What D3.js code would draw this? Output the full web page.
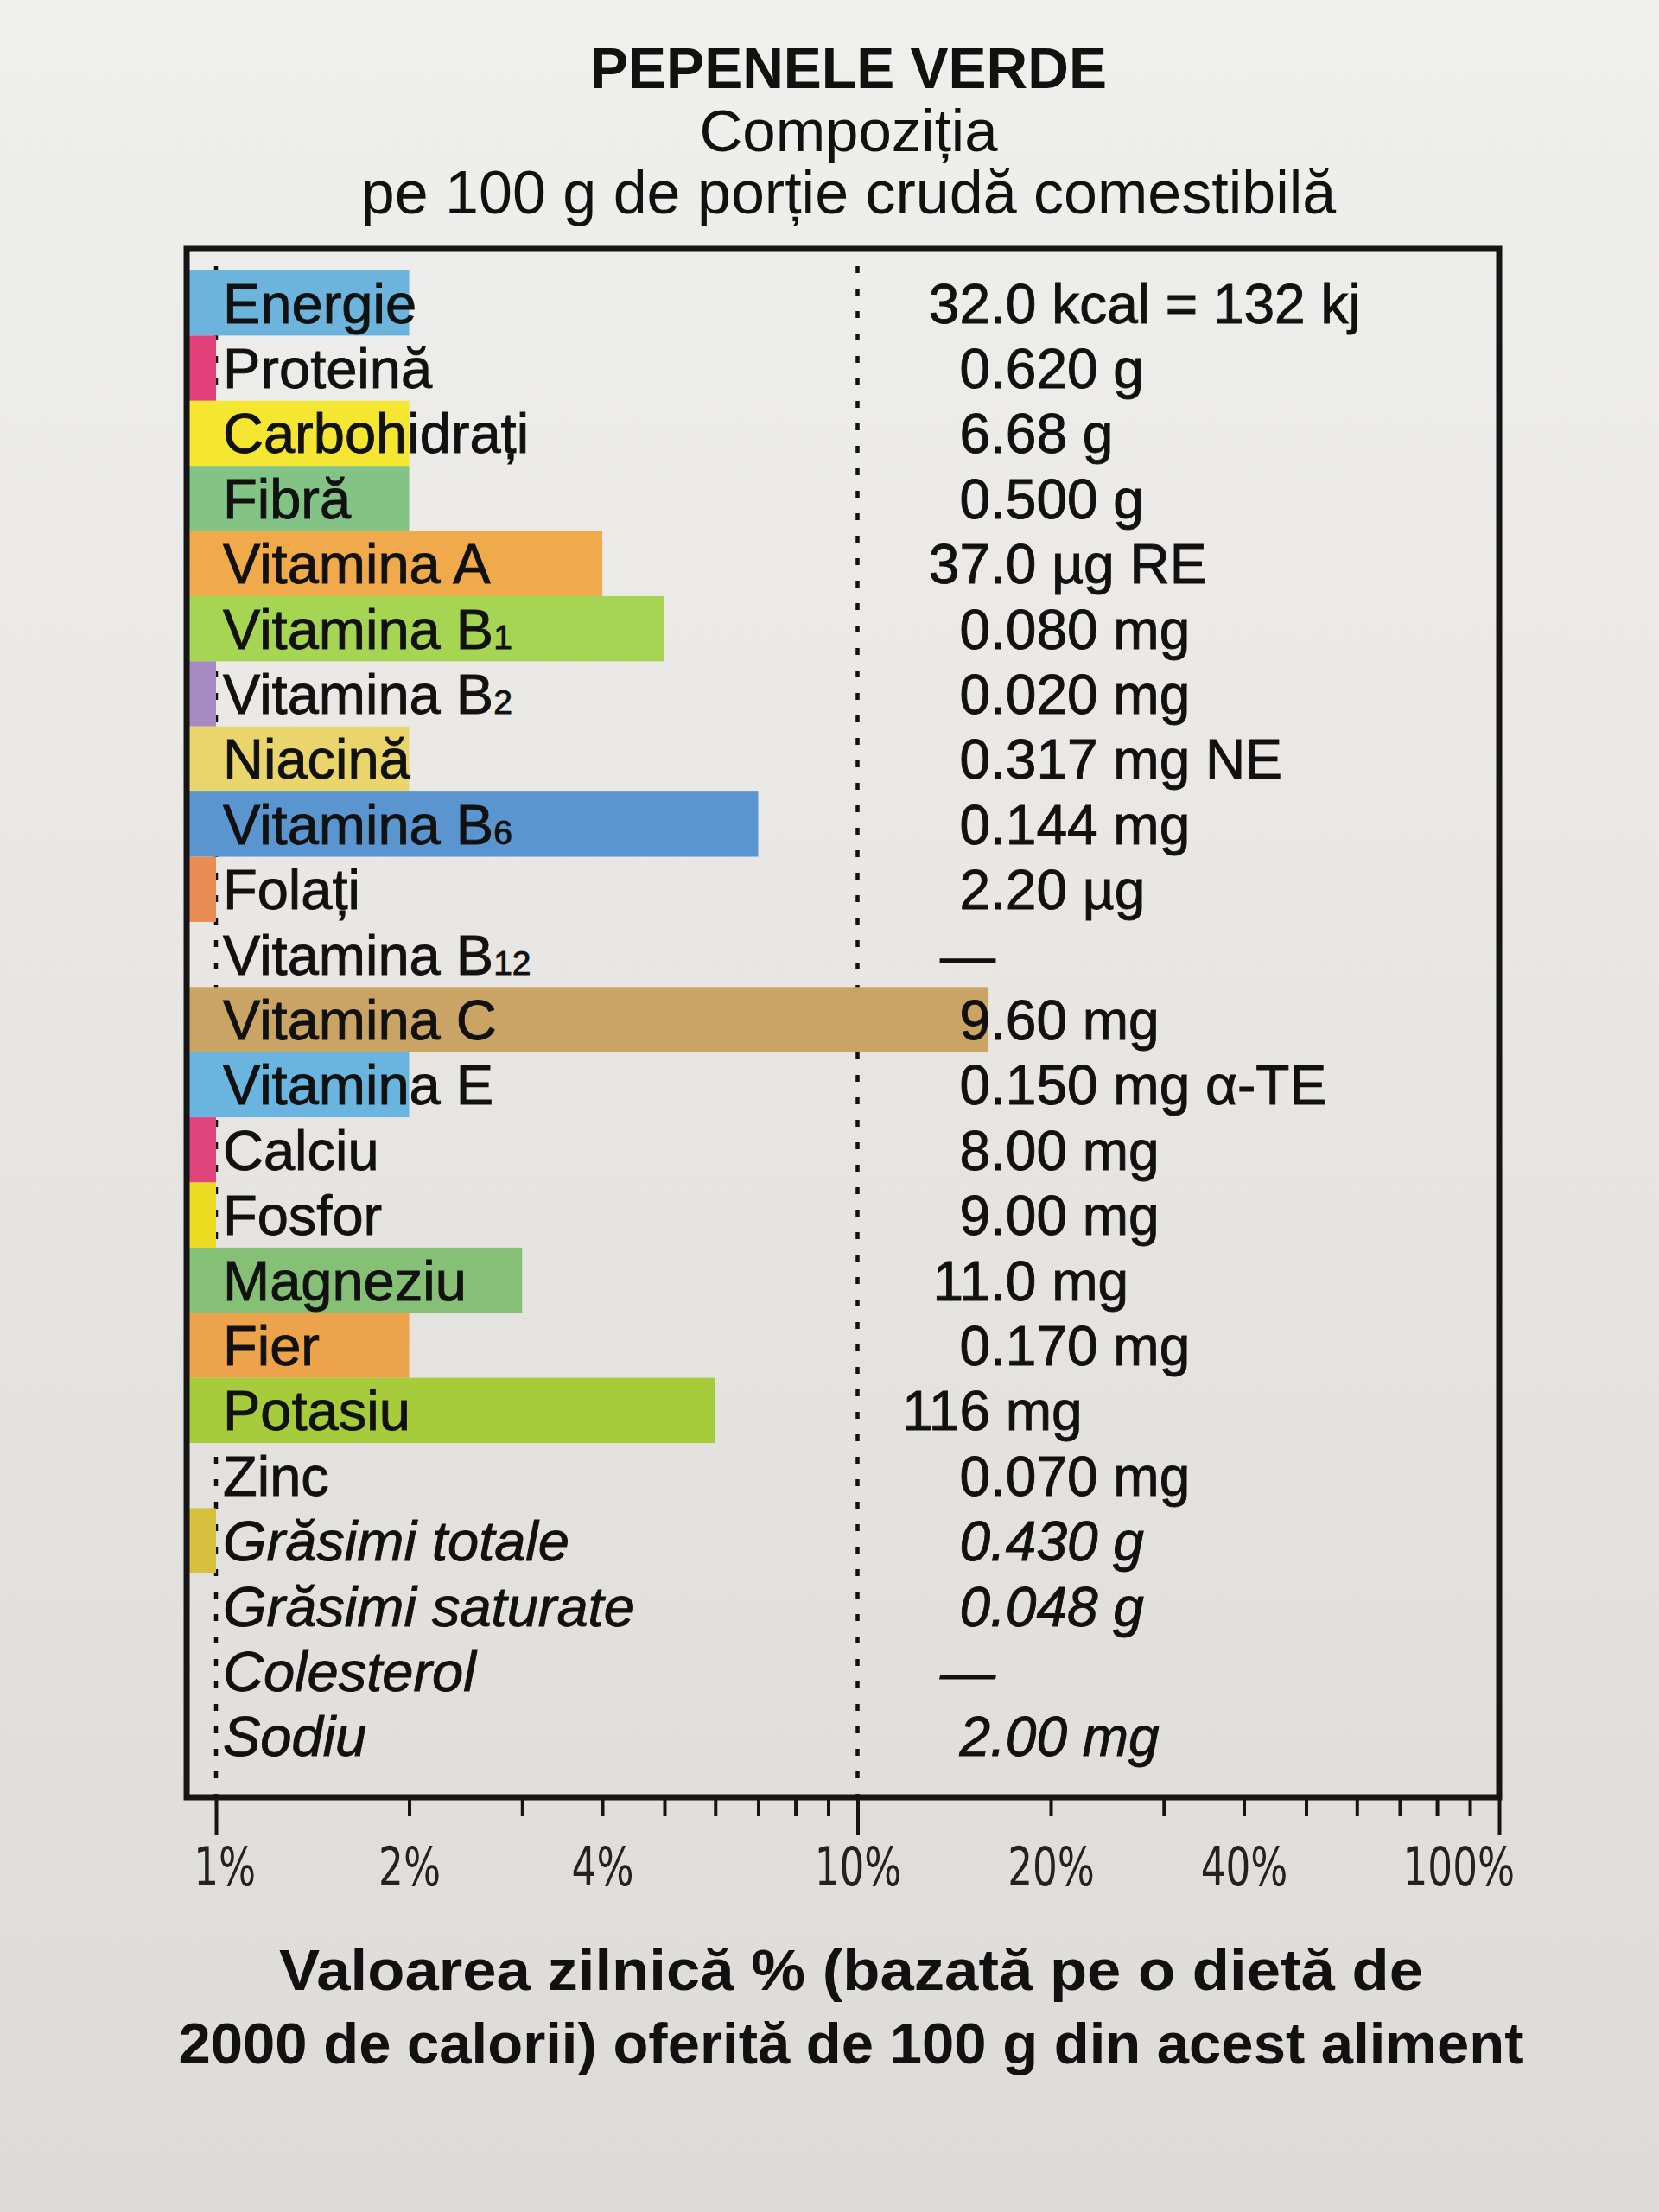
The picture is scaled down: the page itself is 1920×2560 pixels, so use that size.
<!DOCTYPE html>
<html lang="ro">
<head>
<meta charset="UTF-8">
<title>Pepenele verde - compoziția</title>
<script src="https://d3js.org/d3.v7.min.js"></script>
<style>
  body { margin: 0; background: #e8e7e4; }
  svg text { font-family: "Liberation Sans", Arial, Helvetica, sans-serif; fill: #111; white-space: pre; }
  .row-text { stroke: #111; stroke-width: 0.9; }
  .tick-label { font-family: "Liberation Sans Narrow", "DejaVu Sans Condensed", sans-serif; fill: #222; }
</style>
</head>
<body>
<svg width="1920" height="2560"></svg>
<script>
// rows of the chart (top to bottom)
const categories = [
  "Energie", "Proteină", "Carbohidrați", "Fibră", "Vitamina A", "Vitamina B1",
  "Vitamina B2", "Niacină", "Vitamina B6", "Folați", "Vitamina B12", "Vitamina C",
  "Vitamina E", "Calciu", "Fosfor", "Magneziu", "Fier", "Potasiu", "Zinc",
  "Grăsimi totale", "Grăsimi saturate", "Colesterol", "Sodiu"
];
// % of daily value (0 = no bar)
const dvPercent = [2, 1, 2, 2, 4, 5, 1, 2, 7, 1, 0, 16, 2, 1, 1, 3, 2, 6, 0, 1, 0, 0, 0];
// amounts per 100 g, right column
const amounts = [
  "32.0 kcal = 132 kj", "0.620 g", "6.68 g", "0.500 g", "37.0 µg RE", "0.080 mg",
  "0.020 mg", "0.317 mg NE", "0.144 mg", "2.20 µg", "—", "9.60 mg",
  "0.150 mg α-TE", "8.00 mg", "9.00 mg", "11.0 mg", "0.170 mg", "116 mg", "0.070 mg",
  "0.430 g", "0.048 g", "—", "2.00 mg"
];
const barColors = [
  "#6db4dd", "#e2417a", "#f5e631", "#83c386", "#f0aa4c", "#a6d553",
  "#a68bc2", "#e9d56b", "#5b95cf", "#e98d55", "none", "#c9a465",
  "#6ab5df", "#e0447c", "#ecdd20", "#86bf76", "#eda24c", "#a6cc3c", "none",
  "#d6c03c", "none", "none", "none"
];
const italicRows = ["Grăsimi totale", "Grăsimi saturate", "Colesterol", "Sodiu"];
const tickValues = [1, 2, 3, 4, 5, 6, 7, 8, 9, 10, 20, 30, 40, 50, 60, 70, 80, 90, 100];
const labelTicks = [1, 2, 4, 10, 20, 40, 100];
const majorTicks = [1, 10, 100];

const svg = d3.select("svg");

// page background, a bit darker toward the bottom like the photo
const grad = svg.append("defs").append("linearGradient")
  .attr("id", "paper").attr("x1", 0).attr("y1", 0).attr("x2", 0).attr("y2", 1);
grad.append("stop").attr("offset", "0%").attr("stop-color", "#efefed");
grad.append("stop").attr("offset", "100%").attr("stop-color", "#dddbd7");
svg.append("rect").attr("width", 1920).attr("height", 2560).attr("fill", "url(#paper)");

const x = d3.scaleLog().domain([1, 100]).range([250, 1735]);
const y = d3.scaleBand().domain(categories).range([313, 2047]).padding(0);

const boxLeft = x(0.9), boxRight = x(100), boxTop = 288, boxBottom = 2080;

// titles
const cx = 982;
svg.append("text").attr("x", cx).attr("y", 102).attr("text-anchor", "middle")
  .attr("font-size", 66).attr("font-weight", "bold").text("PEPENELE VERDE");
svg.append("text").attr("x", cx).attr("y", 175).attr("text-anchor", "middle")
  .attr("font-size", 69).text("Compoziția");
svg.append("text").attr("x", cx).attr("y", 247).attr("text-anchor", "middle")
  .attr("font-size", 70).text("pe 100 g de porție crudă comestibilă");

// dotted guides at 1% and 10% (under the bars)
[1, 10].forEach(v => {
  svg.append("line")
    .attr("x1", x(v)).attr("x2", x(v))
    .attr("y1", boxTop + 20).attr("y2", boxBottom)
    .attr("stroke", "#111").attr("stroke-width", 4.5)
    .attr("stroke-dasharray", "8,18");
});

// bars
svg.append("g").selectAll("rect")
  .data(categories.filter((c, i) => dvPercent[i] > 0))
  .join("rect")
  .attr("x", boxLeft)
  .attr("y", d => y(d))
  .attr("width", d => x(dvPercent[categories.indexOf(d)]) - boxLeft)
  .attr("height", y.bandwidth())
  .attr("fill", d => barColors[categories.indexOf(d)]);

// row labels
const labels = svg.append("g").attr("font-size", 65);
categories.forEach(c => {
  const t = labels.append("text")
    .attr("class", "row-text")
    .attr("x", x(1) + 8)
    .attr("y", y(c) + y.bandwidth() / 2 + 23)
    .attr("font-style", italicRows.includes(c) ? "italic" : "normal");
  const m = c.match(/^(Vitamina B)(\d+)$/);
  if (m) {
    t.append("tspan").text(m[1]);
    t.append("tspan").attr("font-size", 39).text(m[2]);
  } else {
    t.text(c);
  }
});

// amounts, aligned on the decimal point
const decX = 1146;
const vals = svg.append("g").attr("font-size", 64);
amounts.forEach((s, i) => {
  const c = categories[i];
  const yy = y(c) + y.bandwidth() / 2 + 23;
  const style = italicRows.includes(c) ? "italic" : "normal";
  const m = s.match(/^(\d+)(.*)$/);
  if (m) {
    vals.append("text").attr("class", "row-text").attr("x", decX).attr("y", yy)
      .attr("text-anchor", "end").attr("font-style", style).text(m[1]);
    vals.append("text").attr("class", "row-text").attr("x", decX).attr("y", yy)
      .attr("font-style", style).text(m[2]);
  } else {
    vals.append("text").attr("class", "row-text").attr("x", decX - 58).attr("y", yy)
      .attr("font-style", style).text(s);
  }
});

// frame
svg.append("path")
  .attr("d", `M${boxLeft},${boxTop}H${boxRight}V${boxBottom}H${boxLeft}Z`)
  .attr("fill", "none").attr("stroke", "#151515").attr("stroke-width", 7);

// log axis along the bottom of the frame
const axis = svg.append("g")
  .attr("transform", `translate(0,${boxBottom})`)
  .call(d3.axisBottom(x).tickValues(tickValues).tickSize(22)
    .tickFormat(d => labelTicks.includes(d) ? d + "%" : ""));
axis.select(".domain").remove();
axis.selectAll(".tick line").attr("stroke", "#151515").attr("stroke-width", 4)
  .attr("y2", d => majorTicks.includes(d) ? 44 : 22);
axis.selectAll(".tick text")
  .attr("class", "tick-label")
  .attr("y", 102).attr("dy", 0)
  .attr("font-size", 63)
  .attr("transform", "scale(0.8,1)")
  .attr("text-anchor", d => d === 100 ? "end" : "middle")
  .attr("dx", d => d === 100 ? 22 : (d === 1 ? 12 : 0));

// axis title
svg.append("text").attr("x", 985).attr("y", 2303).attr("text-anchor", "middle")
  .attr("font-size", 67).attr("font-weight", "bold")
  .attr("textLength", 1324).attr("lengthAdjust", "spacingAndGlyphs")
  .text("Valoarea zilnică % (bazată pe o dietă de");
svg.append("text").attr("x", 985).attr("y", 2388).attr("text-anchor", "middle")
  .attr("font-size", 67).attr("font-weight", "bold")
  .attr("textLength", 1557).attr("lengthAdjust", "spacingAndGlyphs")
  .text("2000 de calorii) oferită de 100 g din acest aliment");
</script>
</body>
</html>
